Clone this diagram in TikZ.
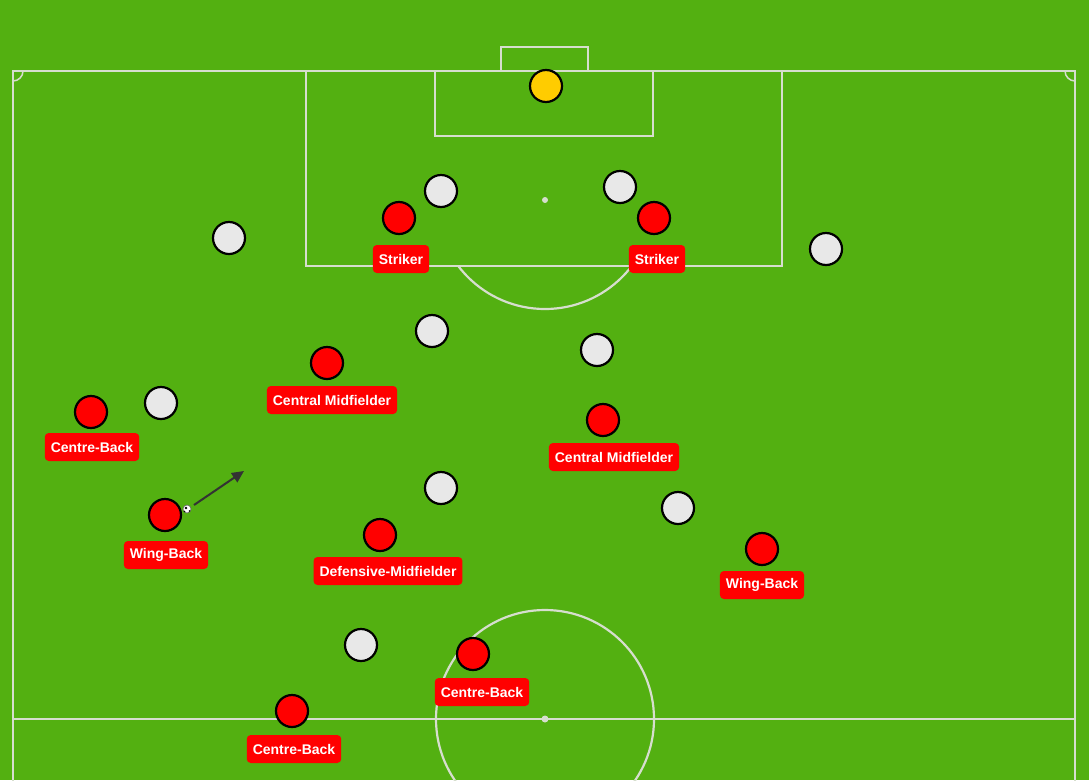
\documentclass[tikz,border=0pt]{standalone}
\usepackage{fontspec}
\setmainfont{Liberation Sans}
\usetikzlibrary{arrows.meta}
\definecolor{pitch}{RGB}{83,176,17}
\definecolor{pline}{RGB}{214,222,206}
\definecolor{wplayer}{RGB}{232,232,232}
\definecolor{gk}{RGB}{255,204,0}
\definecolor{arr}{RGB}{51,51,51}
\tikzset{
  markline/.style={draw=pline, line width=2.2pt},
  redp/.style={circle, fill=red, draw=black, line width=2.2pt, minimum size=32pt, inner sep=0pt},
  whitep/.style={circle, fill=wplayer, draw=black, line width=2.2pt, minimum size=32pt, inner sep=0pt},
  gkp/.style={circle, fill=gk, draw=black, line width=2.2pt, minimum size=32pt, inner sep=0pt},
  lbl/.style={fill=red, rounded corners=4pt, text=white, font=\fontsize{14}{16}\selectfont\bfseries, inner xsep=6pt, minimum height=28pt, inner ysep=0pt},
  ballp/.style={circle, fill=white, draw=black!60, line width=0.6pt, minimum size=8pt, inner sep=0pt}
}
\begin{document}
\begin{tikzpicture}[x=1pt,y=-1pt]
\useasboundingbox (0,0) rectangle (1089,780);
\fill[pitch] (0,0) rectangle (1089,780);
% pitch markings
\draw[markline] (13,790) -- (13,71) -- (1075,71) -- (1075,790);
\draw[markline] (13,719) -- (1075,719);
\draw[markline] (306,71) -- (306,266) -- (782,266) -- (782,71);
\draw[markline] (435,71) -- (435,136) -- (653,136) -- (653,71);
\draw[markline] (501,71) -- (501,47) -- (588,47) -- (588,71);
\fill[pline] (545,200) circle[radius=3];
\fill[pline] (545,719) circle[radius=3.5];
\draw[markline] (545,719) circle[radius=109];
\begin{scope}
  \clip (0,266) rectangle (1089,780);
  \draw[markline] (545,200) circle[radius=109];
\end{scope}
\begin{scope}
  \clip (13,71) rectangle (1075,200);
  \draw[draw=pline, line width=1.5pt] (13,71) circle[radius=10];
  \draw[draw=pline, line width=1.5pt] (1075,71) circle[radius=10];
\end{scope}
% goalkeeper
\node[gkp] (gk) at (546,86) {};
% opponents
\node[whitep] (w1) at (441,191) {};
\node[whitep] (w2) at (620,187) {};
\node[whitep] (w3) at (229,238) {};
\node[whitep] (w4) at (826,249) {};
\node[whitep] (w5) at (432,331) {};
\node[whitep] (w6) at (597,350) {};
\node[whitep] (w7) at (161,403) {};
\node[whitep] (w8) at (441,488) {};
\node[whitep] (w9) at (678,508) {};
\node[whitep] (w10) at (361,645) {};
% team
\node[redp] (st1) at (399,218) {};
\node[redp] (st2) at (654,218) {};
\node[redp] (cm1) at (327,363) {};
\node[redp] (cb1) at (91,412) {};
\node[redp] (cm2) at (603,420) {};
\node[redp] (wb1) at (165,515) {};
\node[redp] (dm) at (380,535) {};
\node[redp] (wb2) at (762,549) {};
\node[redp] (cb2) at (473,654) {};
\node[redp] (cb3) at (292,711) {};
% labels
\node[lbl] (st1l) at (401,259) {Striker};
\node[lbl] (st2l) at (657,259) {Striker};
\node[lbl] (cm1l) at (332,400) {Central Midfielder};
\node[lbl] (cb1l) at (92,447) {Centre-Back};
\node[lbl] (cm2l) at (614,457) {Central Midfielder};
\node[lbl] (wb1l) at (166,555) {Wing-Back};
\node[lbl] (dml) at (388,571) {Defensive-Midfielder};
\node[lbl] (wb2l) at (762,585) {Wing-Back};
\node[lbl] (cb2l) at (482,692) {Centre-Back};
\node[lbl] (cb3l) at (294,749) {Centre-Back};
% ball and pass direction
\node[ballp] (ball) at (187,509) {};
\fill[black] (186,508) circle[radius=1.3];
\fill[black] (189.5,511) circle[radius=0.9];
\fill[black] (184.5,511.5) circle[radius=0.8];
\coordinate (tgt) at (244,471);
\draw[arr, line width=2pt, -{Triangle[length=12pt,width=11pt]}] (194,505) -- (tgt);
\end{tikzpicture}
\end{document}
